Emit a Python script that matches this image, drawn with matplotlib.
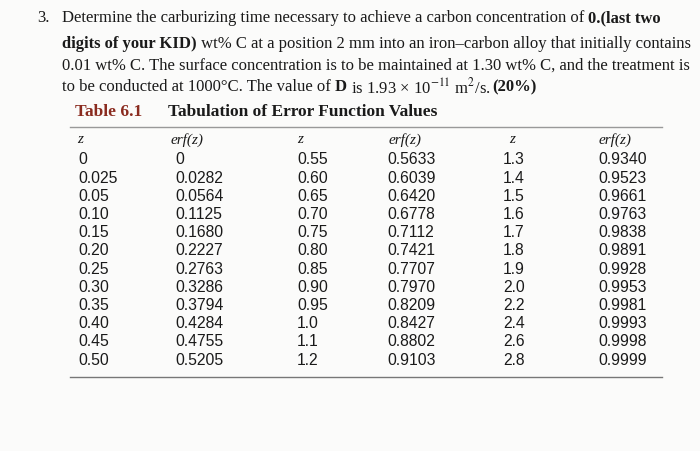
import matplotlib
matplotlib.use("Agg")
import matplotlib.pyplot as plt
plt.rcParams["mathtext.fontset"] = "stix"

z1 = ["0","0.025","0.05","0.10","0.15","0.20","0.25","0.30","0.35","0.40","0.45","0.50"]
e1 = ["0","0.0282","0.0564","0.1125","0.1680","0.2227","0.2763","0.3286","0.3794","0.4284","0.4755","0.5205"]
z2 = ["0.55","0.60","0.65","0.70","0.75","0.80","0.85","0.90","0.95","1.0","1.1","1.2"]
e2 = ["0.5633","0.6039","0.6420","0.6778","0.7112","0.7421","0.7707","0.7970","0.8209","0.8427","0.8802","0.9103"]
z3 = ["1.3","1.4","1.5","1.6","1.7","1.8","1.9","2.0","2.2","2.4","2.6","2.8"]
e3 = ["0.9340","0.9523","0.9661","0.9763","0.9838","0.9891","0.9928","0.9953","0.9981","0.9993","0.9998","0.9999"]

W, H = 700, 452
fig = plt.figure(figsize=(7, 4.52), dpi=100)
fig.patch.set_facecolor("#fbfbfa")
ax = fig.add_axes([0, 0, 1, 1])
ax.set_xlim(0, W); ax.set_ylim(H, 0); ax.axis("off")

serif = "Liberation Serif"
sans = "Liberation Sans"
tc = "#1a1a1a"
fs = 12.0

def line(x, y, parts):
    prev = None
    for s, w in parts:
        kw = dict(fontsize=fs, family=serif, color=tc, weight=w, va="center", ha="left")
        if prev is None:
            prev = ax.text(x, y, s, **kw)
        else:
            prev = ax.annotate(s, xy=(1, 0.5), xycoords=prev, **kw)

ax.text(37, 18, "3.", fontsize=fs, family=serif, color=tc, va="center")
line(62, 18, [("Determine the carburizing time necessary to achieve a carbon concentration of ", "normal"),
              ("0.(last two", "bold")])
line(62, 44, [("digits of your KID)", "bold"),
              (" wt% C at a position 2 mm into an iron\u2013carbon alloy that initially contains", "normal")])
line(62, 66, [("0.01 wt% C. The surface concentration is to be maintained at 1.30 wt% C, and the treatment is", "normal")])
line(62, 87, [("to be conducted at 1000\u00b0C. The value of ", "normal"), ("D", "bold"),
              (" is 1.93 \u00d7 10$^{-11}$ m$^{2}$/s. ", "normal"), ("(20%)", "bold")])

ax.text(75, 112, "Table 6.1", fontsize=12.5, family=serif, color="#8a2b1f", va="center", weight="bold")
ax.text(168, 112, "Tabulation of Error Function Values", fontsize=12.5, family=serif, color=tc,
        va="center", weight="bold")

ax.plot([70, 662], [128, 128], color="#999999", lw=1)
ax.plot([70, 662], [378, 378], color="#777777", lw=1)

hx = [80, 187, 300, 405, 512, 615]
for i, x in enumerate(hx):
    lab = "z" if i % 2 == 0 else "erf(z)"
    ax.text(x, 140, lab, fontsize=11, family=serif, style="italic", color=tc, va="center", ha="center")

cols = [(z1, 78, "left"), (e1, 175, "left"), (z2, 297, "left"), (e2, 387, "left"),
        (z3, 514, "center"), (e3, 598, "left")]
for vals, x, ha in cols:
    for r, v in enumerate(vals):
        ax.text(x, 160 + r * 18.2, v, fontsize=11.3, family=sans, color=tc, va="center", ha=ha)

fig.savefig("out.png", dpi=100, facecolor=fig.get_facecolor())
